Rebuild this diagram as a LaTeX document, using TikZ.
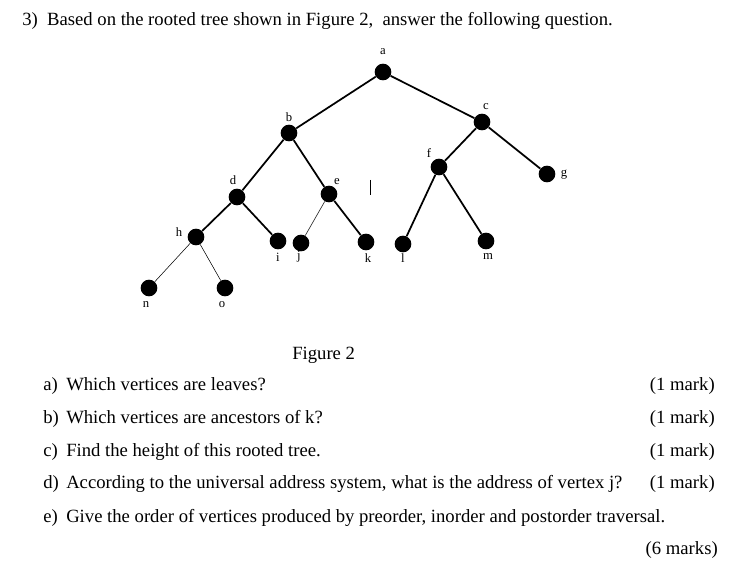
\documentclass[tikz,border=0pt]{standalone}
\usepackage{fontspec}
\setmainfont{Liberation Serif}
\tikzset{vert/.style={circle, fill=black, inner sep=0pt, minimum size=12.5pt},
         lbl/.style={font=\fontsize{9.5}{10}\selectfont, inner sep=0pt},
         txt/.style={anchor=base west, inner sep=0pt, font=\fontsize{14}{16}\selectfont},
         mrk/.style={anchor=base east, inner sep=0pt, font=\fontsize{14}{16}\selectfont}}
\begin{document}
\begin{tikzpicture}[x=0.75pt,y=-0.75pt]
  \useasboundingbox (0,0) rectangle (754,574);

  % vertices
  \node[vert] (a) at (383,72) {};
  \node[vert] (b) at (289,133) {};
  \node[vert] (c) at (482,122) {};
  \node[vert] (d) at (237,197) {};
  \node[vert] (e) at (329,194) {};
  \node[vert] (f) at (439,167) {};
  \node[vert] (g) at (547,174) {};
  \node[vert] (h) at (196,237) {};
  \node[vert] (i) at (278,241) {};
  \node[vert] (j) at (301,243) {};
  \node[vert] (k) at (366,242) {};
  \node[vert] (l) at (403,244) {};
  \node[vert] (m) at (486,241) {};
  \node[vert] (n) at (149,288) {};
  \node[vert] (o) at (225,288) {};

  % edges
  \draw[line width=1.3pt] (a) -- (b) (a) -- (c) (b) -- (d) (b) -- (e) (c) -- (f) (c) -- (g)
    (d) -- (h) (d) -- (i) (e) -- (k) (f) -- (l) (f) -- (m);
  \draw[thin] (h) -- (n) (h) -- (o) (e) -- (j);
  \draw[thin] (370,180) -- (370,195);

  % labels
  \foreach \v/\x/\y in {a/383/52, b/289/117, c/486/107, d/233/180, e/337/182,
      f/429/153, g/564/175, h/179/232, i/278/257, j/299/257, k/368/258,
      l/403/258, m/488/257, n/146/305, o/222/305}
    \node[lbl] (lbl-\v) at (\x,\y) {\v};

  \node[txt] (head) at (22,26) {3)\ \ Based on the rooted tree shown in Figure 2,\ \ answer the following question.};
  \node[txt] (fig) at (292,359) {Figure 2};

  \foreach \t/\q/\y in {a/Which vertices are leaves?/390,
      b/Which vertices are ancestors of k?/423,
      c/Find the height of this rooted tree./456,
      d/{According to the universal address system, what is the address of vertex j?}/488,
      e/{Give the order of vertices produced by preorder, inorder and postorder traversal.}/522}
  {
    \node[txt] (lab-\t) at (43,\y) {\t)};
    \node[txt] (q-\t) at (66,\y) {\q};
  }
  \foreach \t/\y in {a/390,b/423,c/456,d/488}
    \node[mrk] (mark-\t) at (715,\y) {(1 mark)};
  \node[mrk] (mark-e) at (718,554) {(6 marks)};
\end{tikzpicture}
\end{document}
